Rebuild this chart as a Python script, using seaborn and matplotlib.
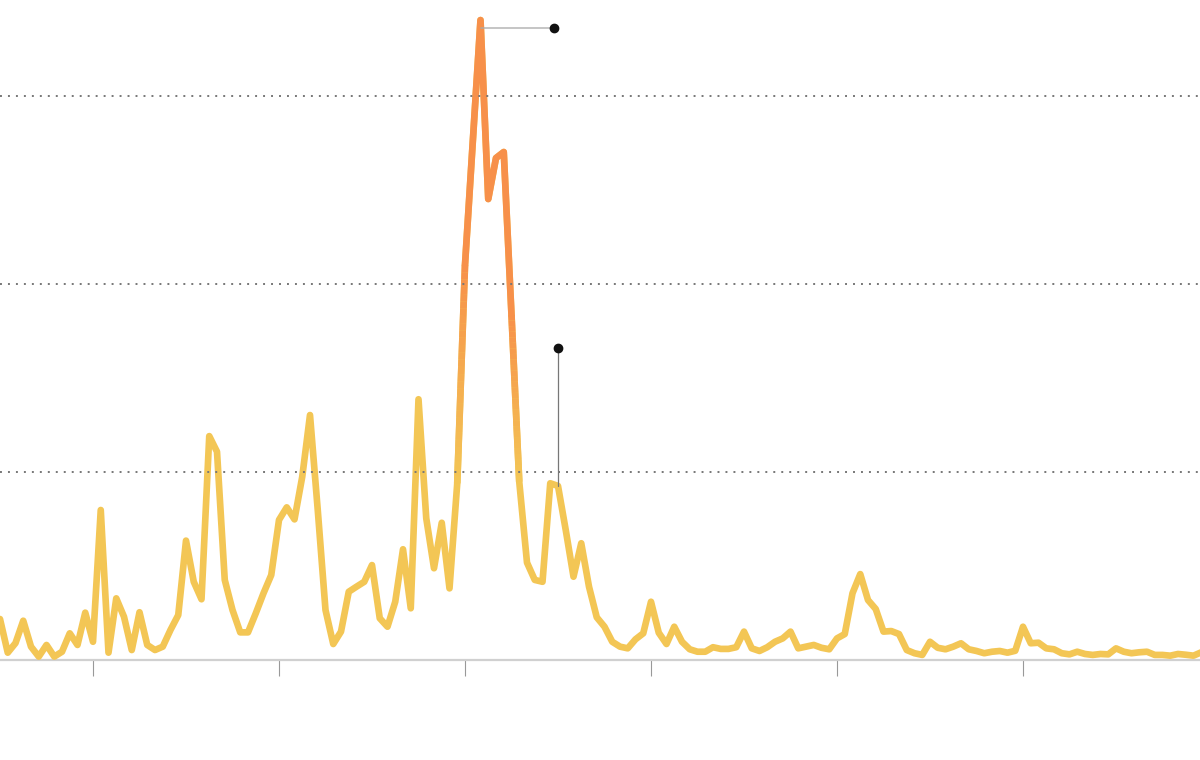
import numpy as np
import pandas as pd
import matplotlib
matplotlib.use("Agg")
import matplotlib.pyplot as plt
import matplotlib.colors as mcolors
import seaborn as sns

# Monthly series values (index = month number)
values = [
    21.8, 3.9, 9.0, 20.9, 7.1, 1.8, 8.0, 1.8, 4.4, 14.2,
    8.0, 25.2, 9.7, 79.8, 3.9, 32.8, 23.0, 5.3, 25.4, 8.0,
    5.3, 7.1, 16.0, 23.9, 63.5, 41.6, 32.3, 119.1, 110.8, 42.6,
    26.6, 14.7, 14.7, 24.8, 35.5, 45.2, 74.5, 81.2, 74.8, 97.5,
    130.3, 79.8, 26.6, 8.5, 15.1, 36.3, 39.0, 41.6, 50.5, 22.2,
    17.7, 31.0, 58.9, 27.5, 138.7, 75.4, 48.8, 73.0, 38.1, 94.0,
    210.1, 275.5, 340.4, 245.2, 267.0, 270.2, 183.5, 94.8, 51.8, 42.6,
    41.6, 94.0, 92.6, 69.1, 44.3, 62.1, 39.0, 22.7, 17.7, 9.7,
    7.1, 6.2, 11.0, 14.2, 31.0, 14.5, 8.5, 17.7, 9.7, 5.7,
    4.4, 4.4, 6.8, 5.9, 5.9, 6.8, 15.1, 6.2, 4.8, 6.8,
    9.7, 11.5, 15.1, 6.2, 7.1, 8.0, 6.5, 5.7, 11.5, 13.8,
    35.5, 45.7, 31.9, 27.1, 15.1, 15.4, 13.8, 5.3, 3.6, 2.7,
    9.7, 6.5, 5.7, 7.1, 8.9, 5.7, 4.8, 3.6, 4.4, 4.8,
    3.9, 4.9, 17.7, 8.9, 9.2, 6.2, 5.7, 3.6, 3.0, 4.4,
    3.2, 2.7, 3.2, 3.0, 6.2, 4.4, 3.6, 4.1, 4.4, 2.7,
    2.7, 2.3, 3.2, 2.8, 2.3, 4.1,
]
months = list(range(len(values)))

# Highlighted (orange) stretch of months; the first/last segment fades from yellow
highlight_start = 59
highlight_end = 67

# Tick positions (every 24 months) and grid levels
tick_months = [12, 36, 60, 84, 108, 132]
grid_levels = [100, 200, 300]

# Annotation anchors
peak_label_end = 71.5      # x (month) of the dot at the end of the peak leader
peak_leader_value = 336.2  # y of the horizontal leader
second_label_month = 72    # month of the vertical leader
second_label_top = 166.0   # value where the vertical leader's dot sits

YELLOW = "#F3C655"
ORANGE = "#F7904A"
LW = 4.8

df = pd.DataFrame({"month": months, "value": values})
core = df[(df.month >= highlight_start + 1) & (df.month <= highlight_end - 1)]

sns.set_style("white")
fig = plt.figure(figsize=(12, 7.6), dpi=100)
ax = fig.add_axes([0, 100 / 760, 1, 660 / 760])

for g in grid_levels:
    ax.axhline(g, color="#777777", lw=1.4, linestyle=(0, (1, 3.1)), zorder=7)

sns.lineplot(data=df, x="month", y="value", ax=ax, color=YELLOW, lw=LW,
             solid_joinstyle="round", solid_capstyle="round", zorder=3,
             clip_on=False)
sns.lineplot(data=core, x="month", y="value", ax=ax, color=ORANGE, lw=LW,
             solid_joinstyle="round", solid_capstyle="round", zorder=5)

# Gradient transition segments (yellow -> orange and orange -> yellow)
y_rgb = np.array(mcolors.to_rgb(YELLOW))
o_rgb = np.array(mcolors.to_rgb(ORANGE))
n_sub = 30
for a, b, c0, c1 in [(highlight_start, highlight_start + 1, y_rgb, o_rgb),
                     (highlight_end - 1, highlight_end, o_rgb, y_rgb)]:
    ts = np.linspace(0, 1, n_sub + 1)
    xs = a + (b - a) * ts
    ys = values[a] + (values[b] - values[a]) * ts
    for k in range(n_sub):
        t = (k + 0.5) / n_sub
        col = c0 + (c1 - c0) * t
        ax.plot(xs[k:k + 2], ys[k:k + 2], color=col, lw=LW,
                solid_capstyle="butt", zorder=4)

# Annotation leaders
peak_idx = int(np.argmax(values))
ax.plot([peak_idx, peak_label_end], [peak_leader_value, peak_leader_value],
        color="#aaaaaa", lw=1.2, zorder=8, alpha=0.8)
ax.scatter([peak_label_end], [peak_leader_value], s=36, color="#111111", zorder=9)
ax.plot([second_label_month, second_label_month],
        [values[second_label_month], second_label_top],
        color="#777777", lw=0.9, zorder=8)
ax.scatter([second_label_month], [second_label_top], s=36, color="#111111", zorder=9)

ax.set_xlim(0, 1200 / 7.75)
ax.set_ylim(0, 660 / 1.88)
ax.set_xticks(tick_months)
ax.set_xticklabels([])
ax.set_yticks([])
ax.set_xlabel("")
ax.set_ylabel("")
for s in ["top", "left", "right"]:
    ax.spines[s].set_visible(False)
ax.spines["bottom"].set_color("#d0d0d0")
ax.spines["bottom"].set_linewidth(1.6)
ax.tick_params(axis="x", direction="out", length=11.5, width=0.8,
               color="#999999", bottom=True)
ax.patch.set_alpha(0)

fig.savefig("out.png", dpi=100)
